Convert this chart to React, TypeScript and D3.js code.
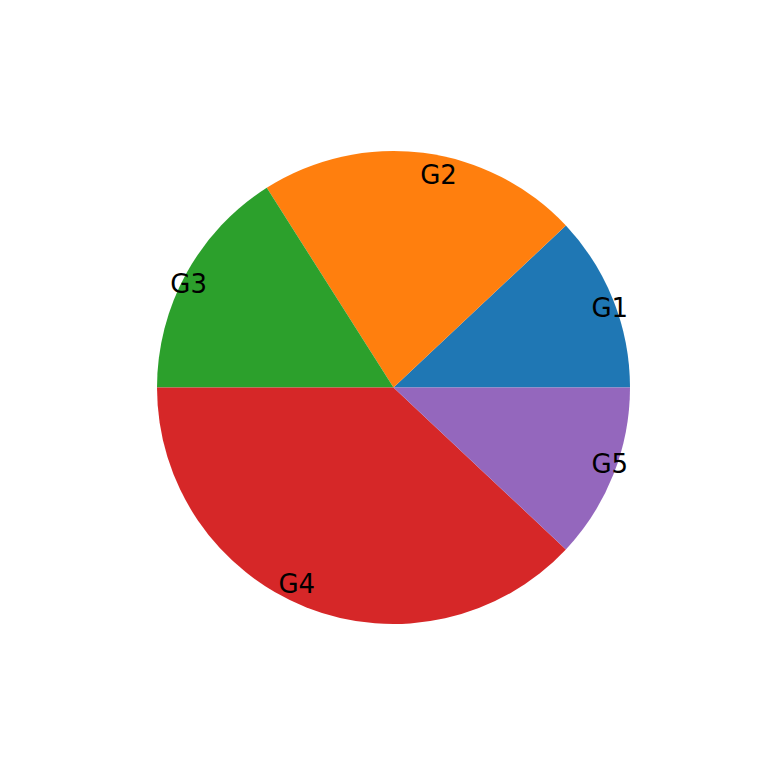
import React, {useEffect, useRef} from 'react';
import * as d3 from 'd3';

const labels = ['G1', 'G2', 'G3', 'G4', 'G5'];
const values = [12, 22, 16, 38, 12];
const colors = ['#1f77b4', '#ff7f0e', '#2ca02c', '#d62728', '#9467bd'];

const width = 768;
const height = 768;

const PieChart: React.FC = () => {
  const ref = useRef<SVGSVGElement>(null);

  useEffect(() => {
    const svg = d3.select(ref.current);
    svg.selectAll('*').remove();

    const cx = 393.5;
    const cy = 387.5;
    const radius = 236.5;
    const labelDistance = 0.9;

    // matplotlib style: start at 3 o'clock, go counterclockwise
    const pie = d3.pie<number>()
      .sort(null)
      .startAngle(Math.PI / 2)
      .endAngle(Math.PI / 2 - 2 * Math.PI);

    const arcs = pie(values);
    const arc = d3.arc<d3.PieArcDatum<number>>().innerRadius(0).outerRadius(radius);

    const g = svg.append('g').attr('transform', `translate(${cx},${cy})`);

    g.selectAll('path')
      .data(arcs)
      .join('path')
      .attr('d', arc)
      .attr('fill', (_, i) => colors[i]);

    // labels inside the rim, left/right aligned like matplotlib
    g.selectAll('text')
      .data(arcs)
      .join('text')
      .each(function (d, i) {
        const mid = (d.startAngle + d.endAngle) / 2;
        const x = Math.sin(mid) * radius * labelDistance;
        const y = -Math.cos(mid) * radius * labelDistance;
        d3.select(this)
          .attr('x', x)
          .attr('y', y)
          .attr('dy', '0.29em')
          .attr('text-anchor', x > 0 ? 'start' : 'end')
          .text(labels[i]);
      })
      .attr('font-family', 'DejaVu Sans')
      .attr('font-size', 26)
      .attr('fill', '#000');
  }, []);

  return <svg ref={ref} width={width} height={height} style={{display: 'block', background: '#fff'}}/>;
};

export default function App() {
  return <div style={{position: 'absolute', left: 0, top: 0}}>
    <PieChart/>
  </div>;
}
